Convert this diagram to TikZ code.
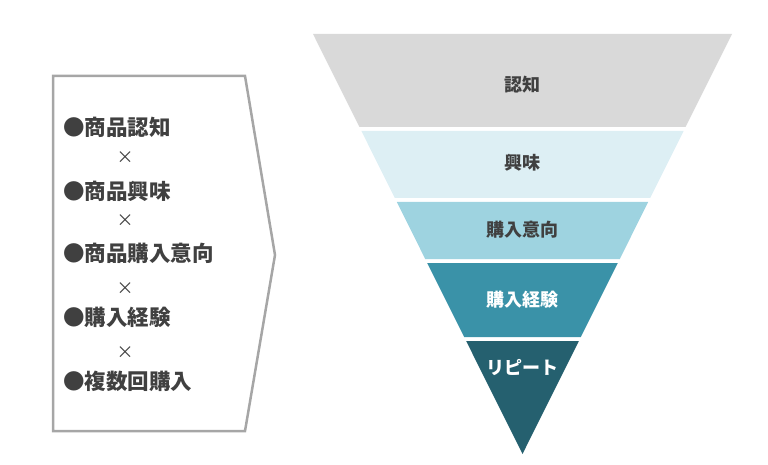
\documentclass[tikz,border=0pt]{standalone}
\usepackage{fontspec}
\newfontfamily\jpfont{Noto Sans CJK JP}
\definecolor{textgray}{HTML}{404040}
\definecolor{framegray}{HTML}{A6A6A6}
\definecolor{stageA}{HTML}{D9D9D9}
\definecolor{stageB}{HTML}{DDEFF4}
\definecolor{stageC}{HTML}{9ED3E0}
\definecolor{stageD}{HTML}{3A92A8}
\definecolor{stageE}{HTML}{25606F}
\tikzset{
  itemtext/.style={anchor=west,inner sep=0pt,text=textgray,font=\jpfont\bfseries\fontsize{21.5}{25}\selectfont},
  crosstext/.style={inner sep=0pt,text=textgray,font=\jpfont\fontsize{17}{20}\selectfont},
  stagelabel/.style={inner sep=0pt,font=\jpfont\bfseries\fontsize{18}{21}\selectfont},
  boxline/.style={draw=framegray,line width=2.5pt,line join=miter}
}
\begin{document}
\begin{tikzpicture}[x=1pt,y=-1pt]
\useasboundingbox (0,0) rectangle (768,465);

% left frame with pointed right side
\draw[boxline] (53,76) -- (245,76) -- (275,255) -- (245,431) -- (53,431) -- cycle;

% list of conditions
\foreach \y/\txt [count=\i] in {127/商品認知,191/商品興味,253/商品購入意向,317/購入経験,381/複数回購入} {
    \node[itemtext] (item\i) at (63,\y) {●\txt};
}
\foreach \y [count=\i] in {158,221,289,353} {
    \node[crosstext] (cross\i) at (125,\y) {×};
}

% funnel: top y / bottom y / fill / label y / label colour / text
\foreach \yt/\yb/\col/\ly/\tcol/\txt [count=\i] in {
    34/127/stageA/85/textgray/認知,
    131/198/stageB/163/textgray/興味,
    202/259/stageC/230/textgray/購入意向,
    263/337/stageD/300/white/購入経験,
    341/454/stageE/368/white/リピート} {
    \pgfmathsetmacro{\wt}{0.49881*(454-\yt)}
    \pgfmathsetmacro{\wb}{0.49881*(454-\yb)}
    \fill[\col] (522.5-\wt,\yt) -- (522.5+\wt,\yt) -- (522.5+\wb,\yb) -- (522.5-\wb,\yb) -- cycle;
    \node[stagelabel,text=\tcol] (stage\i) at (522.5,\ly) {\txt};
}

\end{tikzpicture}
\end{document}
